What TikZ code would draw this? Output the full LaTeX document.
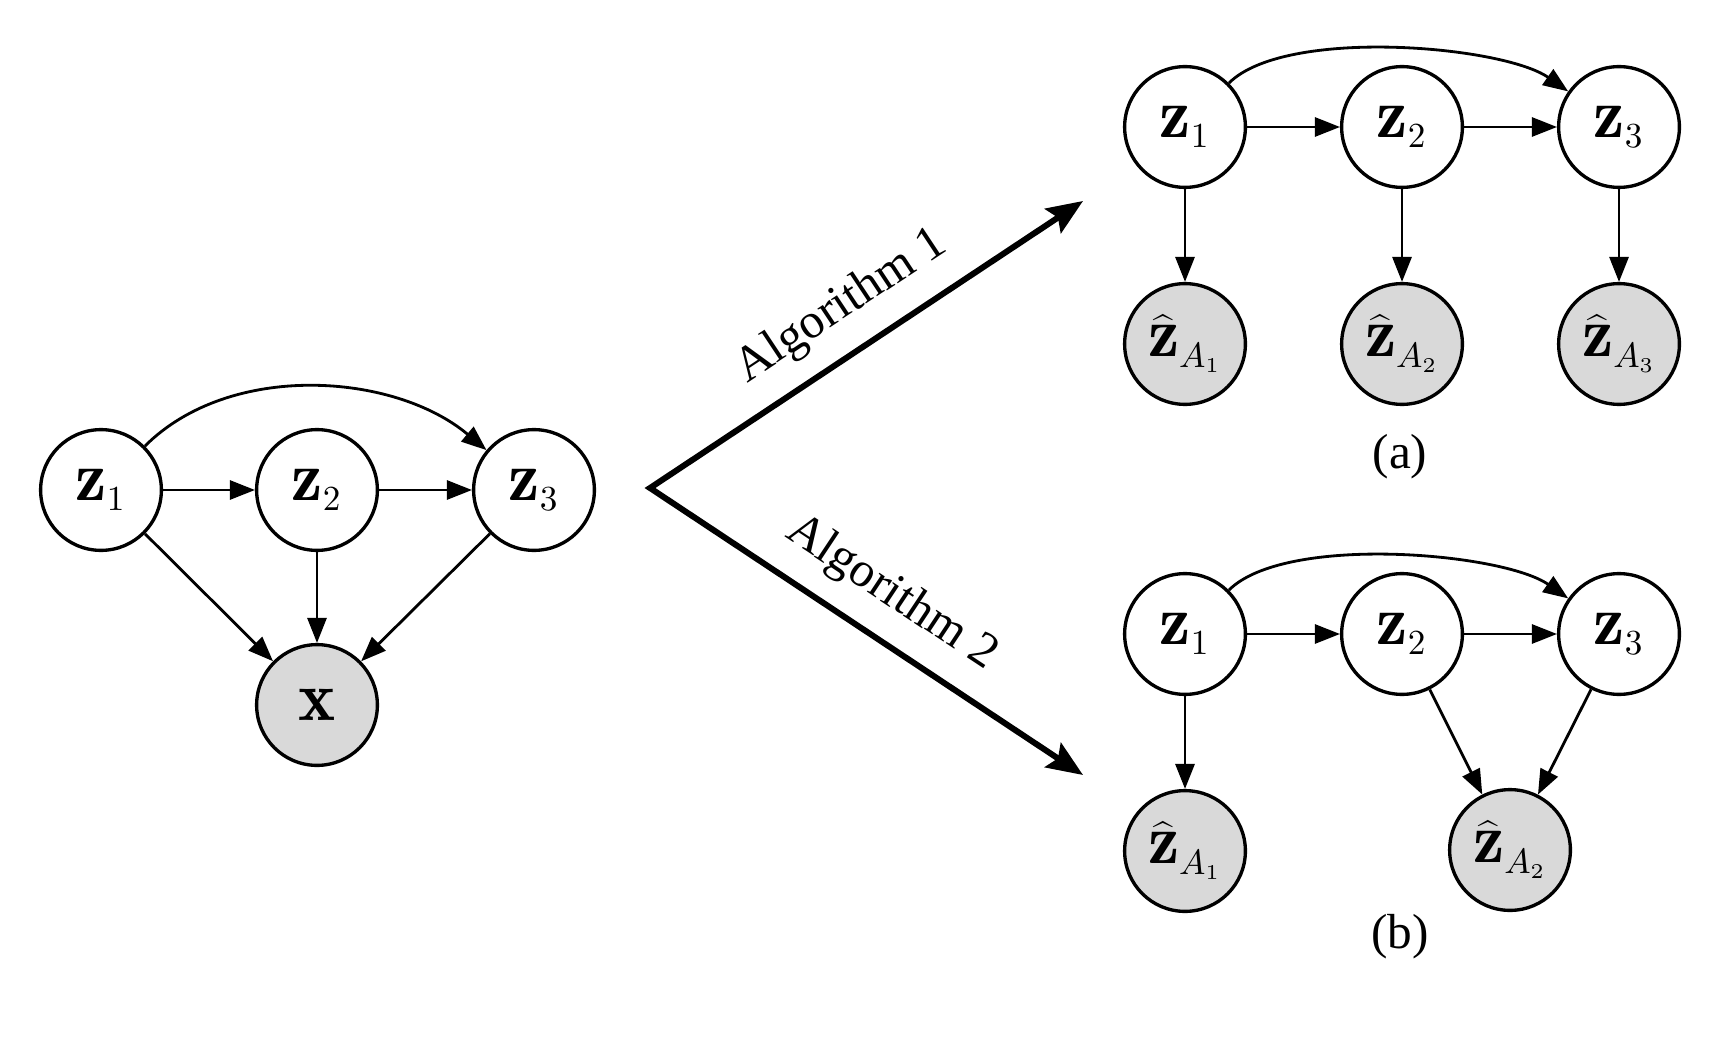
\RequirePackage{fix-cm}
\documentclass[tikz,border=0pt]{standalone}
\usepackage{fontspec}
\newfontfamily\timesfont{Liberation Serif}
\usetikzlibrary{arrows.meta}
\DeclareMathSizes{20}{20}{10}{6}
\definecolor{obsgray}{RGB}{217,217,217}
\begin{document}
\begin{tikzpicture}[x=0.01cm,y=-0.01cm,
  var/.style={circle,draw,line width=0.95pt,minimum size=1.207cm,inner sep=0pt,fill=white,font=\fontsize{20}{24}\selectfont},
  obs/.style={var,fill=obsgray},
  edge/.style={-{Triangle[length=0.25cm,width=0.19cm]},line width=0.8pt},
  big/.style={{Stealth[length=0.36cm,width=0.29cm,inset=0.06cm]}-{Stealth[length=0.36cm,width=0.29cm,inset=0.06cm]},line width=1.7pt},
  lab/.style={font=\timesfont\fontsize{14}{16}\selectfont}]
\useasboundingbox (0,0) rectangle (1728,1052);

% left graph
\node[var] (l1) at (101,490) {$\mathbf{z}_1$};
\node[var] (l2) at (317,490) {$\mathbf{z}_2$};
\node[var] (l3) at (534,490) {$\mathbf{z}_3$};
\node[obs] (lx) at (317,705) {$\mathbf{x}$};
\draw[edge] (l1) -- (l2);
\draw[edge] (l2) -- (l3);
\draw[edge] (l1) to[out=45,in=140,looseness=0.9] (l3);
\draw[edge] (l1) -- (lx);
\draw[edge] (l2) -- (lx);
\draw[edge] (l3) -- (lx);

% algorithm arrows
\coordinate (v) at (650,488);
\coordinate (t1) at (1083,201);
\coordinate (t2) at (1083,775);
\draw[big,line join=miter] (t1) -- node[lab,sloped,above=0.2cm,inner sep=0pt] (alg1) {Algorithm 1} (v)
  -- node[lab,sloped,above=0.2cm,inner sep=0pt] (alg2) {Algorithm 2} (t2);

% graph (a)
\node[var] (a1) at (1185,127) {$\mathbf{z}_1$};
\node[var] (a2) at (1402,127) {$\mathbf{z}_2$};
\node[var] (a3) at (1619,127) {$\mathbf{z}_3$};
\node[obs] (ah1) at (1185,344) {$\widehat{\mathbf{z}}_{A_1}$};
\node[obs] (ah2) at (1402,344) {$\widehat{\mathbf{z}}_{A_2}$};
\node[obs] (ah3) at (1619,344) {$\widehat{\mathbf{z}}_{A_3}$};
\draw[edge] (a1) -- (a2);
\draw[edge] (a2) -- (a3);
\draw[edge] (a1) to[out=45,in=145,looseness=0.6] (a3);
\draw[edge] (a1) -- (ah1);
\draw[edge] (a2) -- (ah2);
\draw[edge] (a3) -- (ah3);
\node[lab] (capa) at (1400,457) {(a)};

% graph (b)
\node[var] (b1) at (1185,634) {$\mathbf{z}_1$};
\node[var] (b2) at (1402,634) {$\mathbf{z}_2$};
\node[var] (b3) at (1619,634) {$\mathbf{z}_3$};
\node[obs] (bh1) at (1185,851) {$\widehat{\mathbf{z}}_{A_1}$};
\node[obs] (bh2) at (1510,850) {$\widehat{\mathbf{z}}_{A_2}$};
\draw[edge] (b1) -- (b2);
\draw[edge] (b2) -- (b3);
\draw[edge] (b1) to[out=45,in=145,looseness=0.6] (b3);
\draw[edge] (b1) -- (bh1);
\draw[edge] (b2) -- (bh2);
\draw[edge] (b3) -- (bh2);
\node[lab] (capb) at (1400,937) {(b)};
\end{tikzpicture}
\end{document}
